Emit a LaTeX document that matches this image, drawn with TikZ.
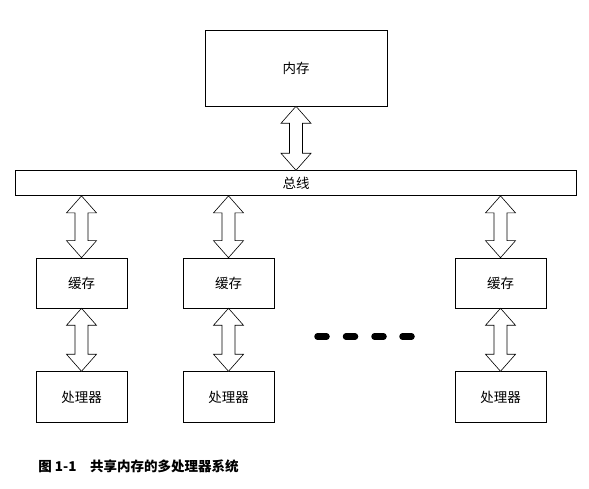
\documentclass[tikz,border=0pt]{standalone}
\usepackage{fontspec}
\newfontfamily\cjk{Noto Sans CJK SC}
\usetikzlibrary{calc,positioning}

% hollow two-headed arrow from the bottom of #1 to the top of #2
\newcommand{\biarrow}[2]{%
  \path[draw,fill=white,line join=miter] let \p1=(#1.south), \p2=(#2.north) in
    (\x2,\y1) -- (\x2+15pt,\y1-17pt) -- (\x2+6.5pt,\y1-17pt)
    -- (\x2+6.5pt,\y2+17pt) -- (\x2+15pt,\y2+17pt) -- (\x2,\y2)
    -- (\x2-15pt,\y2+17pt) -- (\x2-6.5pt,\y2+17pt)
    -- (\x2-6.5pt,\y1-17pt) -- (\x2-15pt,\y1-17pt) -- cycle;}

\begin{document}
\begin{tikzpicture}[x=1pt,y=1pt,semithick,
  unit/.style={draw,inner sep=0pt,minimum width=91pt,minimum height=50pt,font=\cjk\fontsize{13.5}{16}\selectfont}]

  \useasboundingbox (0,0) rectangle (589,489);

  \node[unit,minimum width=182pt,minimum height=76pt] (mem) at (296,421) {内存};
  \node[unit,minimum width=561pt,minimum height=25pt] (bus) [below=64pt of mem] {总线};

  \node[unit] (cacheA) at (81.5,206)  {缓存};
  \node[unit] (cacheB) at (228.5,206) {缓存};
  \node[unit] (cacheC) at (500.5,206) {缓存};

  \node[unit,minimum height=51pt] (cpuA) [below=63pt of cacheA] {处理器};
  \node[unit,minimum height=51pt] (cpuB) [below=63pt of cacheB] {处理器};
  \node[unit,minimum height=51pt] (cpuC) [below=63pt of cacheC] {处理器};

  \biarrow{mem}{bus}
  \biarrow{bus}{cacheA}
  \biarrow{bus}{cacheB}
  \biarrow{bus}{cacheC}
  \biarrow{cacheA}{cpuA}
  \biarrow{cacheB}{cpuB}
  \biarrow{cacheC}{cpuC}

  % the dots between the second and the last column
  \foreach \x in {322,350.5,379,407}
    \draw[line width=6.5pt,line cap=round] (\x-4.5,152.5) -- (\x+4.5,152.5);

  \node[anchor=west,inner sep=0pt,font=\cjk\bfseries\fontsize{13.5}{15}\selectfont] (caption) at (38,23)
    {图 1-1\quad 共享内存的多处理器系统};
\end{tikzpicture}
\end{document}
